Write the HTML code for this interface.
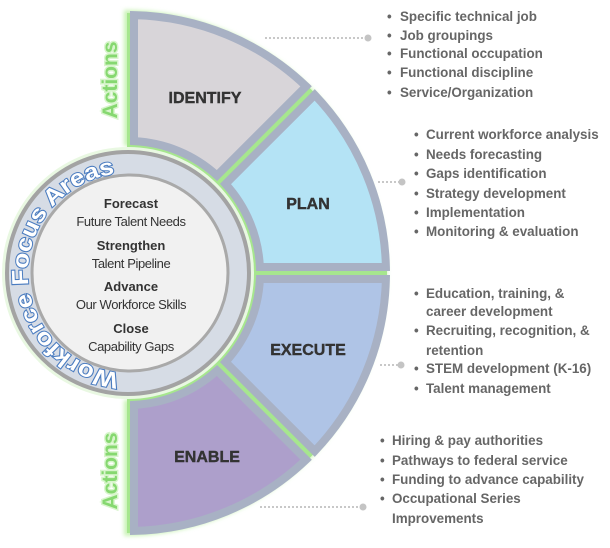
<!DOCTYPE html>
<html><head><meta charset="utf-8"><style>
html,body{margin:0;padding:0;background:#fff;}
svg{display:block;}
.l{font-family:"Liberation Sans",sans-serif;font-weight:bold;font-size:13.4px;fill:#666;}
.w{font-family:"Liberation Sans",sans-serif;font-weight:bold;font-size:16px;fill:#333;text-anchor:middle;}
.cb{font-family:"Liberation Sans",sans-serif;font-weight:bold;font-size:13px;fill:#333;text-anchor:middle;}
.cn{font-family:"Liberation Sans",sans-serif;font-size:13px;fill:#333;text-anchor:middle;letter-spacing:-0.4px;}
.act{font-family:"Liberation Sans",sans-serif;font-weight:bold;font-size:21px;fill:#86d870;text-anchor:middle;}
</style></head><body>
<svg width="610" height="548" viewBox="0 0 610 548" xmlns="http://www.w3.org/2000/svg">
<defs>
<filter id="g" x="-10%" y="-10%" width="120%" height="120%"><feGaussianBlur stdDeviation="2"/></filter>
</defs>
<path d="M124,273 L124,10 A263 263 0 0 1 124,536 L124,400 A127 127 0 0 0 124,146 Z" fill="#c8f3b4" filter="url(#g)"/>
<path d="M127,273 L127,13 A260 260 0 0 1 127,533 L127,398 A125 125 0 0 0 127,148 Z" fill="#a6e68e"/>
<g stroke="#a8b1c4" stroke-width="8" stroke-linejoin="miter">
<path d="M134,141.1 L134,15.1 A258 258 0 0 1 306.1,86.3 L217,175.5 A132 132 0 0 0 134,141.1 Z" fill="#d8d5d9"/>
<path d="M225.5,184 L314.7,94.9 A258 258 0 0 1 385.9,267 L259.9,267 A132 132 0 0 0 225.5,184 Z" fill="#b4e3f5"/>
<path d="M259.9,279 L385.9,279 A258 258 0 0 1 314.7,451.1 L225.5,362 A132 132 0 0 0 259.9,279 Z" fill="#afc4e6"/>
<path d="M217,370.5 L306.1,459.7 A258 258 0 0 1 134,530.9 L134,404.9 A132 132 0 0 0 217,370.5 Z" fill="#ad9fcb"/>
</g>
<g stroke="#333" stroke-width="0.4">
<text class="w" x="205" y="103">IDENTIFY</text>
<text class="w" x="308" y="209">PLAN</text>
<text class="w" x="308" y="355">EXECUTE</text>
<text class="w" x="207" y="462">ENABLE</text>
</g>
<circle cx="128" cy="273" r="126" fill="#e9f8e2"/>
<circle cx="128" cy="273" r="121" fill="#d6dce5" stroke="#a3a3a3" stroke-width="4"/>
<circle cx="130" cy="273" r="98" fill="#f1f1f1" stroke="#a9a9a9" stroke-width="3"/>
<path id="tp" d="M119.3,372.6 A100 100 0 0 1 115.8,173.7" fill="none"/>
<text font-family="'Liberation Sans',sans-serif" font-weight="bold" font-size="23" fill="#fff" stroke="#4a7cc0" stroke-width="2" paint-order="stroke"><textPath href="#tp" textLength="292" lengthAdjust="spacingAndGlyphs">Workforce Focus Areas</textPath></text>
<text class="cb" x="131" y="208">Forecast</text>
<text class="cn" x="131" y="226">Future Talent Needs</text>
<text class="cb" x="131" y="250">Strengthen</text>
<text class="cn" x="131" y="268">Talent Pipeline</text>
<text class="cb" x="131" y="291">Advance</text>
<text class="cn" x="131" y="309">Our Workforce Skills</text>
<text class="cb" x="131" y="333">Close</text>
<text class="cn" x="131" y="351">Capability Gaps</text>
<text class="act" transform="translate(117,80) rotate(-90)" stroke="#d8f5cc" stroke-width="3" paint-order="stroke">Actions</text>
<text class="act" transform="translate(117,471) rotate(-90)" stroke="#d8f5cc" stroke-width="3" paint-order="stroke">Actions</text>
<g stroke="#b5b5b5" stroke-width="1.5" stroke-dasharray="2 2">
<line x1="265" y1="38" x2="366" y2="38"/>
<line x1="378" y1="182" x2="400" y2="182"/>
<line x1="380" y1="365" x2="399" y2="365"/>
<line x1="260" y1="507" x2="361" y2="507"/>
</g>
<g fill="#c4c4c4">
<circle cx="368" cy="38" r="3.5"/><circle cx="402" cy="182" r="3.5"/>
<circle cx="401" cy="365" r="3.5"/><circle cx="363" cy="507" r="3.5"/>
</g>
<g class="l">
<text x="387" y="21">•</text><text x="400" y="21">Specific technical job</text>
<text x="387" y="40">•</text><text x="400" y="40">Job groupings</text>
<text x="387" y="58">•</text><text x="400" y="58">Functional occupation</text>
<text x="387" y="77">•</text><text x="400" y="77">Functional discipline</text>
<text x="387" y="97">•</text><text x="400" y="97">Service/Organization</text>

<text x="414" y="139">•</text><text x="426" y="139">Current workforce analysis</text>
<text x="414" y="159">•</text><text x="426" y="159">Needs forecasting</text>
<text x="414" y="178">•</text><text x="426" y="178">Gaps identification</text>
<text x="414" y="198">•</text><text x="426" y="198">Strategy development</text>
<text x="414" y="217">•</text><text x="426" y="217">Implementation</text>
<text x="414" y="236">•</text><text x="426" y="236">Monitoring &amp; evaluation</text>

<text x="414" y="298">•</text><text x="426" y="298">Education, training, &amp;</text>
<text x="426" y="316">career development</text>
<text x="414" y="335">•</text><text x="426" y="335">Recruiting, recognition, &amp;</text>
<text x="426" y="355">retention</text>
<text x="414" y="373">•</text><text x="426" y="373">STEM development (K-16)</text>
<text x="414" y="393">•</text><text x="426" y="393">Talent management</text>

<text x="380" y="445">•</text><text x="392" y="445">Hiring &amp; pay authorities</text>
<text x="380" y="465">•</text><text x="392" y="465">Pathways to federal service</text>
<text x="380" y="484">•</text><text x="392" y="484">Funding to advance capability</text>
<text x="380" y="503">•</text><text x="392" y="503">Occupational Series</text>
<text x="392" y="523">Improvements</text>
</g>
</svg>
</body></html>
